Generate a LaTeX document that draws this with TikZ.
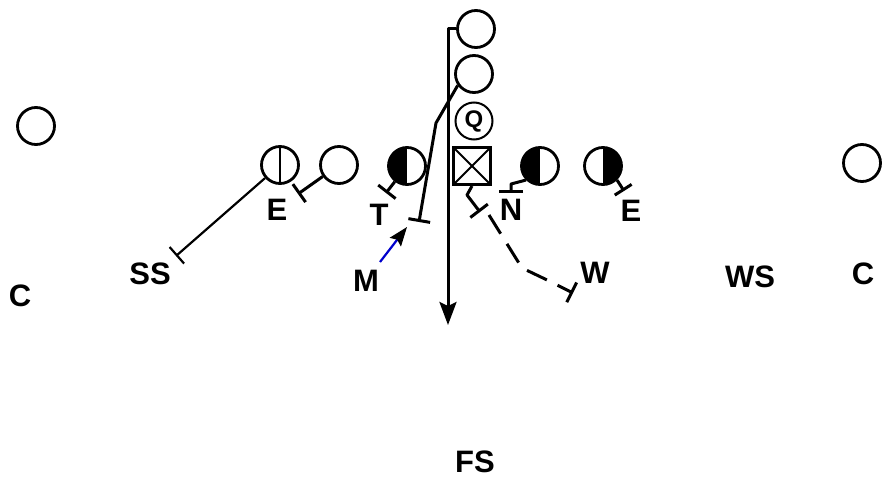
\documentclass[tikz,border=0pt]{standalone}
\usepackage{fontspec}
\setmainfont{Liberation Sans}
\usetikzlibrary{arrows.meta}
\begin{document}
\begin{tikzpicture}[x=1pt,y=-1pt,
  player/.style={circle,draw,line width=2.8pt,minimum size=37pt,inner sep=0pt},
  leftfill/.style={path picture={\fill[black] (path picture bounding box.north) rectangle (path picture bounding box.south west);}},
  rightfill/.style={path picture={\fill[black] (path picture bounding box.north) rectangle (path picture bounding box.south east);}},
  splitline/.style={path picture={\draw[line width=2.8pt] (path picture bounding box.north) -- (path picture bounding box.south);}},
  centerbox/.style={rectangle,draw,line width=3pt,minimum size=37pt,inner sep=0pt,
    path picture={\draw[line width=1.8pt] (path picture bounding box.north west) -- (path picture bounding box.south east)
      (path picture bounding box.north east) -- (path picture bounding box.south west);}},
  lbl/.style={font=\bfseries\fontsize{31}{31}\selectfont,inner sep=0pt},
  route/.style={line width=3pt,line join=round},
  thin route/.style={line width=2.2pt},
  blk/.style={-{Bar[width=22pt]}},
  dashroute/.style={line width=3pt,dash pattern=on 22pt off 12pt,line join=round}
]
\useasboundingbox (0,0) rectangle (892,492);

% offense
\node[player] (wrL) at (36,126) {};
\node[player,splitline] (teL) at (280,165) {};
\node[player] (lg) at (339,165) {};
\node[player,leftfill] (lt) at (407,166) {};
\node[centerbox] (ctr) at (472,166) {};
\node[player,leftfill] (rg) at (540,166) {};
\node[player,rightfill] (rt) at (603,166) {};
\node[player] (wrR) at (862,163) {};
\node[player,line width=2pt,font=\bfseries\fontsize{24}{24}\selectfont] (qb) at (474,121) {Q};
\node[player] (b2) at (474,74) {};
\node[player] (b1) at (476,29) {};

% defense labels
\node[lbl] (cL) at (20,296) {C};
\node[lbl] (ss) at (150,274) {SS};
\node[lbl] (eL) at (277,210) {E};
\node[lbl] (tk) at (379,215) {T};
\node[lbl] (mk) at (366,281) {M};
\node[lbl] (nt) at (511,210) {N};
\node[lbl] (wk) at (595,273) {W};
\node[lbl] (eR) at (631,211) {E};
\node[lbl] (ws) at (750,277) {WS};
\node[lbl] (cR) at (863,274) {C};
\node[lbl] (fs) at (475,462) {FS};

% route end points
\coordinate (ssEnd) at (176,256);
\coordinate (lgEnd) at (298,194);
\coordinate (ltEnd) at (386,193);
\coordinate (cBend) at (467,195);
\coordinate (cEnd) at (480,212);
\coordinate (rgBend) at (511,184);
\coordinate (rgEnd) at (511,193);
\coordinate (rtEnd) at (624,191);
\coordinate (wStart) at (489,215);
\coordinate (wB1) at (522,268);
\coordinate (wB2) at (545,279);
\coordinate (wEnd) at (573,293);
\coordinate (b2Bend) at (436,123);
\coordinate (b2End) at (419,222);
\coordinate (b1Corner) at (448,29);
\coordinate (b1End) at (448,325);
\coordinate (mStart) at (380,262);
\coordinate (mEnd) at (407,227);

% blocks
\draw[thin route,-{Bar[width=22pt]}] (teL) -- (ssEnd);
\draw[route,blk] (lg) -- (lgEnd);
\draw[route,blk] (lt) -- (ltEnd);
\draw[route,blk] (ctr.south) -- (cBend) -- (cEnd);
\draw[route,-{Bar[width=24pt]}] (rg.south west) -- (rgBend) -- (rgEnd);
\draw[route,-{Bar[width=20pt]}] (rt.south east) -- (rtEnd);
\draw[dashroute,blk] (wStart) -- (wB1) -- (wB2) -- (wEnd);
\draw[route,blk] (b2.215) -- (b2Bend) -- (b2End);
\draw[route,-{Stealth[length=23pt,width=17pt,inset=4pt]}] (b1.west) -- (b1Corner) -- (b1End);

% M blitz
\draw[line width=2.2pt,blue!80!black,-{Stealth[length=19pt,width=14pt,inset=3pt,color=black]}] (mStart) -- (mEnd);
\end{tikzpicture}
\end{document}
